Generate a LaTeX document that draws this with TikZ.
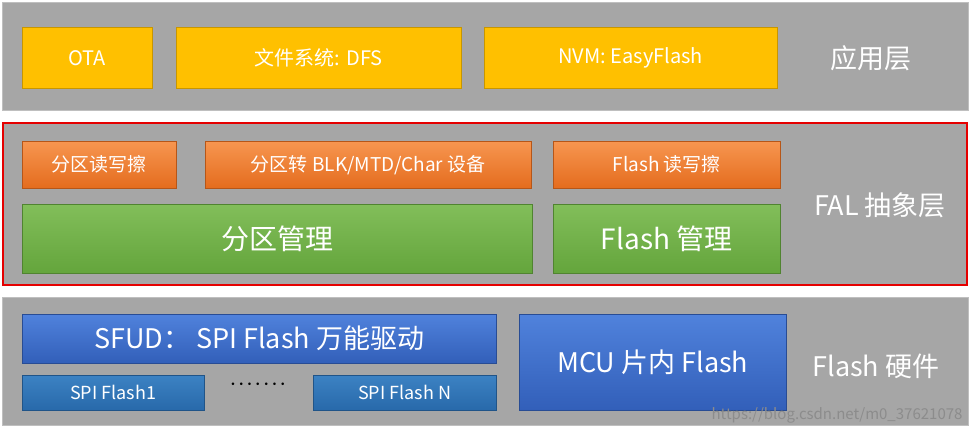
\documentclass[tikz,border=0pt]{standalone}
\usepackage{fontspec}
\setmainfont{Noto Sans CJK SC}
\definecolor{gld}{RGB}{255,192,0}
\definecolor{gldb}{RGB}{200,150,0}
\definecolor{orT}{RGB}{247,150,80}
\definecolor{orB}{RGB}{228,108,30}
\definecolor{gT}{RGB}{130,190,90}
\definecolor{gB}{RGB}{100,165,60}
\definecolor{bT}{RGB}{80,130,220}
\definecolor{bB}{RGB}{50,95,185}
\definecolor{dbT}{RGB}{60,130,195}
\definecolor{dbB}{RGB}{40,105,170}
\definecolor{bandc}{RGB}{166,166,166}
\newcommand{\fs}[1]{\fontsize{#1}{#1}\selectfont}
\begin{document}
\begin{tikzpicture}[x=1pt,y=-1pt,
 band/.style={fill=bandc,draw=black!25},
 gold/.style={draw=gldb,fill=gld,text=white,font=\fs{20}},
 orng/.style={draw=orB!80!black,top color=orT,bottom color=orB,text=white,font=\fs{19}},
 grn/.style={draw=gB!80!black,top color=gT,bottom color=gB,text=white,font=\fs{28}},
 blu/.style={draw=bB!80!black,top color=bT,bottom color=bB,text=white,font=\fs{27}},
 dblu/.style={draw=dbB!80!black,top color=dbT,bottom color=dbB,text=white,font=\fs{18}},
 lbl/.style={text=white,font=\fs{27},anchor=center}]
\useasboundingbox (0,0) rectangle (971,433);
\fill[white] (0,0) rectangle (971,433);
\node[band,minimum width=966,minimum height=108,anchor=north west] (b1) at (2,2) {};
\node[band,minimum width=964,minimum height=162,anchor=north west] (b2) at (3,123) {};
\draw[red!90!black,line width=2pt] (b2.north west) rectangle (b2.south east);
\node[band,minimum width=966,minimum height=128,anchor=north west] (b3) at (2,297) {};
\node[gold,minimum width=130,minimum height=61,anchor=north west] (ota) at (22,27) {OTA};
\node[gold,minimum width=285,minimum height=61,anchor=north west] (dfs) at (176,27) {文件系统: DFS};
\node[gold,minimum width=293,minimum height=61,anchor=north west] (nvm) at (484,27) {NVM: EasyFlash};
\node[lbl] (l1) at (871,58) {应用层};
\node[orng,minimum width=154,minimum height=47,anchor=north west] (o1) at (22,141) {分区读写擦};
\node[orng,minimum width=326,minimum height=47,anchor=north west] (o2) at (205,141) {分区转 BLK/MTD/Char 设备};
\node[orng,minimum width=227,minimum height=47,anchor=north west] (o3) at (553,141) {Flash 读写擦};
\node[grn,minimum width=510,minimum height=69,anchor=north west] (g1) at (22,204) {分区管理};
\node[grn,minimum width=227,minimum height=69,anchor=north west] (g2) at (553,204) {Flash 管理};
\node[lbl] (l2) at (880,205) {FAL 抽象层};
\node[blu,minimum width=474,minimum height=49,anchor=north west] (s) at (22,314) {SFUD：\ SPI Flash 万能驱动};
\node[dblu,minimum width=182,minimum height=35,anchor=north west] (f1) at (22,375) {SPI Flash1};
\node[font=\fs{30}] (dots) at (258,385) {$\cdot\!\cdot\!\cdot\!\cdot\!\cdot\!\cdot\!\cdot$};
\node[dblu,minimum width=183,minimum height=35,anchor=north west] (fn) at (313,375) {SPI Flash N};
\node[blu,minimum width=267,minimum height=96,anchor=north west] (mcu) at (519,314) {MCU 片内 Flash};
\node[lbl] (l3) at (876,366) {Flash 硬件};
\node[text=black!45,font=\fs{15},anchor=east] (wm) at (966,415) {https://blog.csdn.net/m0\_37621078};
\end{tikzpicture}
\end{document}
